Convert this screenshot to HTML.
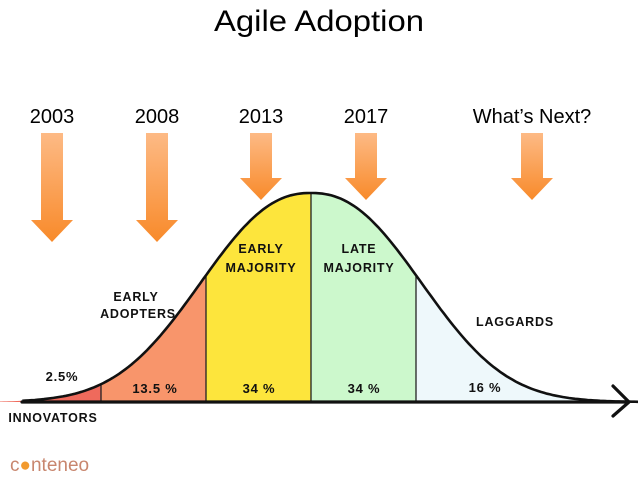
<!DOCTYPE html>
<html><head><meta charset="utf-8"><style>
html,body{margin:0;padding:0;background:#fff}
svg{display:block}
.hand{font-family:"Liberation Sans",sans-serif;font-weight:bold;fill:#111;letter-spacing:0.8px}
.cal{font-family:"Liberation Sans",sans-serif;fill:#000}
</style></head><body>
<svg id="chart" width="638" height="478" viewBox="0 0 638 478" xmlns="http://www.w3.org/2000/svg">
<defs>
<linearGradient id="ag" x1="0" y1="0" x2="0" y2="1">
<stop offset="0" stop-color="#fdba85"/><stop offset="1" stop-color="#f88a2a"/></linearGradient>
</defs>
<text class="cal" x="319" y="31" font-size="30" text-anchor="middle" textLength="210" lengthAdjust="spacingAndGlyphs">Agile Adoption</text>
<g id="arrows"></g>
<g id="curve"></g>
<g>
<text x="10" y="471" font-family="Liberation Sans,sans-serif" font-size="19" fill="#c8866e">c<tspan fill="#f29a2e">●</tspan>nteneo</text>
</g>
</svg>
<script>
const years = ["2003","2008","2013","2017","What’s Next?"];
const arrowX = [52, 157, 261, 366, 532];
const arrowTip = [242, 242, 200, 200, 200];
const segNames = ["innovators","early-adopters","early-majority","late-majority","laggards"];
const segPct = ["2.5%","13.5 %","34 %","34 %","16 %"];
const segBounds = [-3, -2, -1, 0, 1, 3.2];
const segColors = ["#ef6a5c","#f8956b","#fde53c","#ccf8cc","#eef8fb"];

const NS="http://www.w3.org/2000/svg";
const mean=311, sigma=105, base=402, H=209;
const xs = z => mean + z*sigma;
const ys = z => base - H*Math.exp(-Math.pow(Math.abs(z),2.3)/2);
function mk(tag, attrs, parent){const e=document.createElementNS(NS,tag);for(const k in attrs)e.setAttribute(k,attrs[k]);parent.appendChild(e);return e;}

const ag=document.getElementById('arrows');
years.forEach((y,i)=>{
  const cx=arrowX[i], tip=arrowTip[i], top=133, hh=22, sw=11, hw=21;
  const t=mk('text',{x:cx,y:123,'font-size':20,'text-anchor':'middle',class:'cal'},ag);
  t.textContent=y;
  
  
  const p=mk('polygon',{points:`${cx-sw},${top} ${cx+sw},${top} ${cx+sw},${tip-hh} ${cx+hw},${tip-hh} ${cx},${tip} ${cx-hw},${tip-hh} ${cx-sw},${tip-hh}`,fill:'url(#ag)'},ag);
  
  
});

const cg=document.getElementById('curve');
segNames.forEach((n,i)=>{
  const a=segBounds[i], b=segBounds[i+1];
  let d=`M${xs(a)},${base}`;
  for(let k=0;k<=40;k++){const z=a+(b-a)*k/40;d+=` L${xs(z).toFixed(1)},${ys(z).toFixed(1)}`;}
  d+=` L${xs(b)},${base} Z`;
  const p=mk('path',{d,fill:segColors[i]},cg);
  
  
  if(i>0){const l=mk('line',{x1:xs(a),y1:ys(a),x2:xs(a),y2:base,stroke:'#222','stroke-width':1.3},cg);
    
    }
});
let d='';
for(let k=0;k<=200;k++){const z=-2.75+5.95*k/200;d+=(k?' L':'M')+xs(z).toFixed(1)+','+ys(z).toFixed(1);}
const c=mk('path',{d,fill:'none',stroke:'#111','stroke-width':2.6},cg);


const ax=mk('path',{d:`M22,${base} L628,${base} M613,386 L629,${base} L613,416`,fill:'none',stroke:'#111','stroke-width':3.2,'stroke-linecap':'round','stroke-linejoin':'round'},cg);



const pctPos=[[62,381],[155,393],[259,393],[364,393],[485,392]];
segPct.forEach((s,i)=>{
  const t=mk('text',{x:pctPos[i][0],y:pctPos[i][1],'font-size':13,'text-anchor':'middle',class:'hand'},cg);
  t.textContent=s;
  
  
});
const labels=[["EARLY",261,253],["MAJORITY",261,272],["LATE",359,253],["MAJORITY",359,272],["EARLY",136,301],["ADOPTERS",138,318],["LAGGARDS",515,326],["INNOVATORS",53,422]];
labels.forEach((l,i)=>{
  const t=mk('text',{x:l[1],y:l[2],'font-size':12.5,'text-anchor':'middle',class:'hand'},cg);
  t.textContent=l[0];
  
  
});
</script>
</body></html>
